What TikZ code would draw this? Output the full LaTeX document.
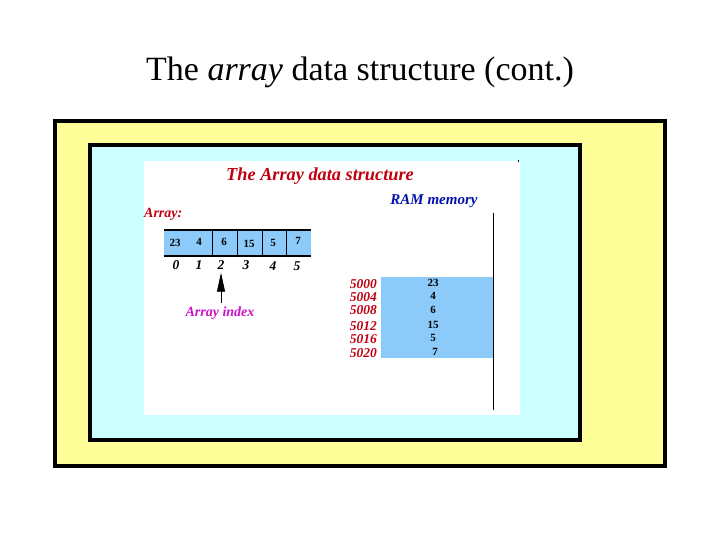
\documentclass[tikz,border=0pt]{standalone}
\usepackage{fontspec}
\setmainfont{Liberation Serif}
\usetikzlibrary{arrows.meta}
\definecolor{pyellow}{HTML}{FFFF99}
\definecolor{pcyan}{HTML}{CCFFFF}
\definecolor{cellblue}{HTML}{8CCBF9}
\definecolor{dred}{HTML}{C00010}
\definecolor{dblue}{HTML}{0010A8}
\definecolor{dmag}{HTML}{CC10CC}
\tikzset{
  frame/.style={draw=black,line width=4pt},
  bi/.style={font=\bfseries\itshape, inner sep=0pt},
  val/.style={font=\bfseries\fontsize{11}{13}\selectfont, inner sep=0pt},
  idx/.style={font=\bfseries\itshape\fontsize{13.5}{15}\selectfont, inner sep=0pt},
  addr/.style={font=\bfseries\itshape\fontsize{13.5}{15}\selectfont, text=dred, inner sep=0pt, anchor=east},
}
\begin{document}
\begin{tikzpicture}[x=1pt,y=-1pt]
\useasboundingbox (0,0) rectangle (720,540);
\fill[white] (0,0) rectangle (720,540);
% slide title
\node[font=\fontsize{34}{40}\selectfont, inner sep=0pt] (title) at (360,72) {The \textit{array} data structure (cont.)};
% frames
\draw[frame, fill=pyellow] (55,121) rectangle (665,466);
\draw[frame, fill=pcyan] (90,145) rectangle (580,440);
\fill[white] (144,161) rectangle (520,415);
\fill[black] (517.5,160.5) rectangle (519,162);
% picture title
\node[bi, text=dred, font=\bfseries\itshape\fontsize{18.3}{21}\selectfont] (ptitle) at (320,176) {The Array data structure};
\node[bi, text=dblue, font=\bfseries\itshape\fontsize{15}{18}\selectfont] (ram) at (434,201) {RAM memory};
\node[bi, text=dred, font=\bfseries\itshape\fontsize{14}{16}\selectfont, anchor=west] (arrlbl) at (144,214) {Array:};
% array table
\fill[cellblue] (164,230) rectangle (311,256);
\draw[line width=1.3pt] (164,230) -- (311,230);
\draw[line width=1.3pt] (164,256) -- (311,256);
\foreach \x in {212,237,262,286} \draw[line width=0.9pt] (\x,230) -- (\x,256);
\node[val] (a0) at (175,243) {23};
\node[val] (a1) at (199,242) {4};
\node[val] (a2) at (224,242) {6};
\node[val] (a3) at (249,244) {15};
\node[val] (a4) at (273,243) {5};
\node[val] (a5) at (298,241) {7};
\node[idx] (i0) at (176,265) {0};
\node[idx] (i1) at (199,265) {1};
\node[idx] (i2) at (221,265) {2};
\node[idx] (i3) at (246,265) {3};
\node[idx] (i4) at (273,266) {4};
\node[idx] (i5) at (297,266) {5};
\node[bi, text=dmag, font=\bfseries\itshape\fontsize{14}{16}\selectfont] (aidx) at (220,313) {Array index};
\draw[line width=0.8pt, -{Triangle[length=19pt,width=8pt]}] (aidx.north -| i2) ++(0,-3) -- ([yshift=-3pt]i2.south);
% memory
\fill[cellblue] (381,277) rectangle (493,358);
\draw[line width=1pt] (493,213) coordinate (vtop) -- (493,410) coordinate (vbot);
\node[addr] (m0) at (377,284) {5000};
\node[addr] (m1) at (377,297) {5004};
\node[addr] (m2) at (377,310) {5008};
\node[addr] (m3) at (377,326) {5012};
\node[addr] (m4) at (377,339) {5016};
\node[addr] (m5) at (377,353) {5020};
\node[val] (v0) at (433,283) {23};
\node[val] (v1) at (433,296) {4};
\node[val] (v2) at (433,310) {6};
\node[val] (v3) at (433,325) {15};
\node[val] (v4) at (433,338) {5};
\node[val] (v5) at (435,352) {7};
\end{tikzpicture}
\end{document}
